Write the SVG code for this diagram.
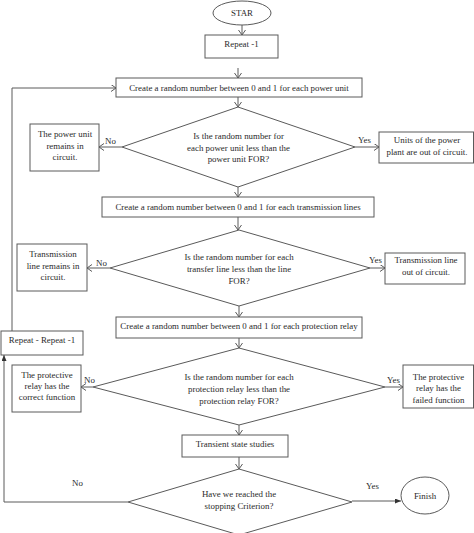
<svg xmlns="http://www.w3.org/2000/svg" width="474" height="533" viewBox="0 0 474 533">
<defs>
<style>
.n{fill:#fff;stroke:#5a5a5a;stroke-width:1}
.c{fill:none;stroke:#5a5a5a;stroke-width:1}
text{font-family:"Liberation Serif","Times New Roman",serif;font-size:8.9px;fill:#2a2a2a}
.m{text-anchor:middle}
</style>
<marker id="o" markerUnits="userSpaceOnUse" markerWidth="8" markerHeight="8" refX="5" refY="3.5" orient="auto">
<path d="M0,0 L5,3.5 L0,7" fill="none" stroke="#5a5a5a" stroke-width="1"/>
</marker>
<marker id="f" markerUnits="userSpaceOnUse" markerWidth="8" markerHeight="8" refX="6" refY="2.5" orient="auto">
<path d="M0,0 L6,2.5 L0,5 z" fill="#333"/>
</marker>
</defs>
<rect width="474" height="533" fill="#fff"/>
<g id="connectors">
<line class="c" x1="242" y1="25" x2="242" y2="35" marker-end="url(#o)"/>
<line class="c" x1="238" y1="68" x2="238" y2="78" marker-end="url(#o)"/>
<line class="c" x1="238" y1="97" x2="238" y2="107" marker-end="url(#o)"/>
<polyline class="c" points="12,331 12,88 116,88" marker-end="url(#o)"/>
<line class="c" x1="122" y1="147" x2="99" y2="147" marker-end="url(#o)"/>
<line class="c" x1="355" y1="147" x2="379" y2="147" marker-end="url(#o)"/>
<line class="c" x1="238" y1="187" x2="238" y2="197" marker-end="url(#o)"/>
<line class="c" x1="238" y1="217" x2="238" y2="230" marker-end="url(#o)"/>
<line class="c" x1="110" y1="268" x2="87" y2="268" marker-end="url(#o)"/>
<line class="c" x1="370" y1="268" x2="385" y2="268" marker-end="url(#o)"/>
<line class="c" x1="239" y1="306" x2="239" y2="317" marker-end="url(#o)"/>
<line class="c" x1="239" y1="338" x2="239" y2="348" marker-end="url(#o)"/>
<line class="c" x1="93" y1="387" x2="81" y2="387" marker-end="url(#o)"/>
<line class="c" x1="385" y1="387" x2="403" y2="387" marker-end="url(#o)"/>
<line class="c" x1="239" y1="425" x2="239" y2="435" marker-end="url(#o)"/>
<line class="c" x1="239" y1="457" x2="239" y2="469" marker-end="url(#o)"/>
<polyline class="c" points="128,502 4,502 4,355" marker-end="url(#f)"/>
<line class="c" x1="352" y1="501" x2="401" y2="501" marker-end="url(#f)"/>
<text x="105" y="144">No</text>
<text x="358" y="143">Yes</text>
<text x="96" y="266">No</text>
<text x="369" y="263">Yes</text>
<text x="84" y="383">No</text>
<text x="387" y="383">Yes</text>
<text x="72" y="486">No</text>
<text x="366" y="489">Yes</text>
</g>
<g id="start">
<ellipse class="n" cx="242" cy="13" rx="29" ry="12"/>
<text class="m" x="242" y="16">STAR</text>
</g>
<g id="repeat1">
<rect class="n" x="205" y="35" width="73" height="23"/>
<text class="m" x="241.5" y="47">Repeat -1</text>
</g>
<g id="create-power">
<rect class="n" x="116" y="78" width="246" height="19"/>
<text class="m" x="239" y="91">Create a random number between 0 and 1 for each power unit</text>
</g>
<g id="decision-power">
<polygon class="n" points="238,107 355,147 238,187 122,147"/>
<text class="m" x="238.5" y="139">Is the random number for</text>
<text class="m" x="238.5" y="150.5">each power unit less than the</text>
<text class="m" x="238.5" y="162">power unit FOR?</text>
</g>
<g id="power-remains">
<rect class="n" x="30" y="124" width="69" height="47"/>
<text class="m" x="65" y="136.5">The power unit</text>
<text class="m" x="65" y="148.5">remains in</text>
<text class="m" x="65" y="160">circuit.</text>
</g>
<g id="power-out">
<rect class="n" x="379" y="132" width="94.5" height="31"/>
<text class="m" x="427" y="143">Units of the power</text>
<text class="m" x="427" y="154.7">plant are out of circuit.</text>
</g>
<g id="create-lines">
<rect class="n" x="102" y="197" width="272" height="20"/>
<text class="m" x="238" y="209.5">Create a random number between 0 and 1 for each transmission lines</text>
</g>
<g id="decision-lines">
<polygon class="n" points="239,230 370,268 239,306 110,268"/>
<text class="m" x="239" y="260">Is the random number for each</text>
<text class="m" x="239" y="272">transfer line less than the line</text>
<text class="m" x="239" y="284">FOR?</text>
</g>
<g id="line-remains">
<rect class="n" x="17" y="244" width="70" height="47"/>
<text class="m" x="53" y="257">Transmission</text>
<text class="m" x="53" y="269">line remains in</text>
<text class="m" x="53" y="280">circuit.</text>
</g>
<g id="line-out">
<rect class="n" x="385" y="253" width="80" height="31"/>
<text class="m" x="426" y="263">Transmission line</text>
<text class="m" x="426" y="275">out of circuit.</text>
</g>
<g id="create-relay">
<rect class="n" x="116" y="317" width="246" height="21"/>
<text class="m" x="239" y="329">Create a random number between 0 and 1 for each protection relay</text>
</g>
<g id="repeat-repeat">
<rect class="n" x="1" y="331" width="82" height="24"/>
<text class="m" x="42" y="343">Repeat - Repeat -1</text>
</g>
<g id="decision-relay">
<polygon class="n" points="239,348 385,387 239,425 93,387"/>
<text class="m" x="239" y="380">Is the random number for each</text>
<text class="m" x="239" y="392">protection relay less than the</text>
<text class="m" x="239" y="404">protection relay FOR?</text>
</g>
<g id="relay-correct">
<rect class="n" x="12" y="365" width="69" height="47"/>
<text class="m" x="47" y="378">The protective</text>
<text class="m" x="47" y="389">relay has the</text>
<text class="m" x="47" y="400">correct function</text>
</g>
<g id="relay-failed">
<rect class="n" x="403" y="365" width="70.5" height="43"/>
<text class="m" x="438.5" y="380">The protective</text>
<text class="m" x="438.5" y="391">relay has the</text>
<text class="m" x="438.5" y="403">failed function</text>
</g>
<g id="transient">
<rect class="n" x="182" y="435" width="106" height="22"/>
<text class="m" x="235" y="447">Transient state studies</text>
</g>
<g id="decision-stop">
<polygon class="n" points="239,469 352,502 239,535 128,502"/>
<text class="m" x="239" y="497">Have we reached the</text>
<text class="m" x="239" y="509">stopping Criterion?</text>
</g>
<g id="finish">
<ellipse class="n" cx="425" cy="495.5" rx="24" ry="18.5"/>
<text class="m" x="425" y="499">Finish</text>
</g>
</svg>
